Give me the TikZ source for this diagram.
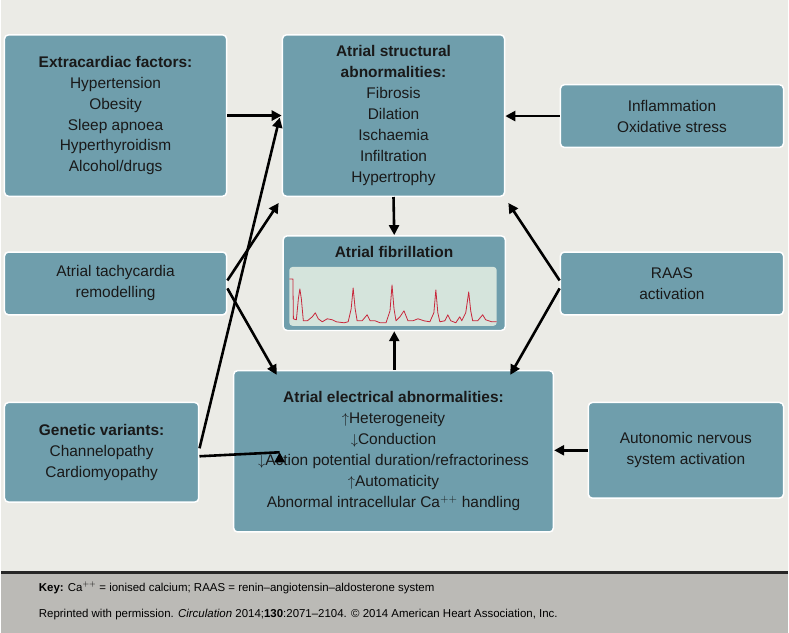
\documentclass[tikz,border=0pt]{standalone}
\usepackage{fontspec}
\setmainfont{Liberation Sans}
\usetikzlibrary{arrows.meta}
\definecolor{bg}{HTML}{EBEBE6}
\definecolor{bx}{HTML}{6F9EAC}
\definecolor{ecg}{HTML}{D5E4DC}
\definecolor{foot}{HTML}{BBBAB6}
\definecolor{ecgline}{HTML}{C8283C}
\begin{document}
\begin{tikzpicture}[x=1pt,y=-1pt,
 box/.style={draw=white,line width=1.5pt,fill=bx,rounded corners=4pt,inner sep=0pt,align=center,font=\fontsize{15.5}{21}\selectfont,text=black!90},
 arr/.style={line width=2.6pt,-{Triangle[length=10pt,width=10pt]}}]
\fill[bg] (0,0) rectangle (789,635);
\fill[foot] (0,576) rectangle (789,635);
\draw[line width=3pt,black!85] (0,574.5) -- (789,574.5);
\newcommand{\bxat}[6]{\node[box,minimum width=#4-#2,minimum height=#5-#3] (#1) at ({(#2+#4)/2},{(#3+#5)/2}) {#6};}
\bxat{extra}{3}{35}{226}{197}{\textbf{Extracardiac factors:}\\Hypertension\\Obesity\\Sleep apnoea\\Hyperthyroidism\\Alcohol/drugs}
\bxat{struct}{282}{35}{505}{197}{\textbf{Atrial structural}\\\textbf{abnormalities:}\\Fibrosis\\Dilation\\Ischaemia\\Infiltration\\Hypertrophy}
\bxat{infl}{561}{85}{785}{148}{Inflammation\\Oxidative stress}
\node[box,minimum width=223,minimum height=95,anchor=north west] (af) at (282,236) {};
\node[font=\fontsize{15.5}{21}\selectfont\bfseries,text=black!90] (aft) at (394,253) {Atrial fibrillation};
\node[fill=ecg,rounded corners=3pt,minimum width=208,minimum height=59,inner sep=0pt] (ecgbox) at (393,297.5) {};
\draw[ecgline,line width=0.8pt,line join=round] plot coordinates {
(289,280)(292.5,280)(293,320)(296,321)(298,300)(299.5,290)(301,300)(303,322)(307,322)(312,318)(315,314)(318,320)(322,323)(327,320)(332,321)(336,323)(344,324)(348,323)(351,310)(353,289)(355,310)(357,322)(362,322)(367,316)(370,322)(375,322)(380,324)(386,324)(390,312)(392,286)(394,310)(396,322)(400,318)(404,312)(408,322)(413,322)(418,320)(424,322)(430,323)(434,314)(436,291)(438,314)(440,323)(445,322)(448,316)(451,322)(456,324)(460,318)(462,322)(466,314)(469,293)(471,312)(473,322)(478,322)(483,316)(486,321)(492,323)(497,323)};
\bxat{tachy}{3}{253}{226}{316}{Atrial tachycardia\\remodelling}
\bxat{raas}{561}{253}{785}{316}{RAAS\\activation}
\bxat{elec}{233}{372}{554}{534}{\textbf{Atrial electrical abnormalities:}\\$\uparrow$Heterogeneity\\$\downarrow$Conduction\\$\downarrow$Action potential duration/refractoriness\\$\uparrow$Automaticity\\Abnormal intracellular Ca$^{++}$ handling}
\bxat{gen}{3}{404}{198}{504}{\textbf{Genetic variants:}\\Channelopathy\\Cardiomyopathy}
\bxat{auto}{589}{404}{785}{500}{Autonomic nervous\\system activation}
\draw[arr] (extra.east) ++(0,0) coordinate(a1) (a1) -- (a1-|struct.west);
\draw[arr] (infl.west) -- (infl.west-|struct.east);
\draw[arr] (struct.south) -- (af.north);
\draw[arr] (elec.north-|af.south) -- (af.south);
\draw[arr] ([yshift=3pt]tachy.east) -- ([xshift=-3pt,yshift=-6pt]struct.south west);
\draw[arr] ([yshift=-5pt]tachy.east) -- ([xshift=44pt,yshift=-5pt]elec.north west);
\draw[arr] ([yshift=3pt]raas.west) -- ([xshift=3pt,yshift=-6pt]struct.south east);
\draw[arr] ([yshift=-5pt]raas.west) -- ([xshift=-44pt,yshift=-5pt]elec.north east);
\draw[arr] ([yshift=-4pt]gen.east) -- ([xshift=-2pt]gen.east-|struct.west) ++(0,0);
\draw[arr] ([yshift=4pt]gen.east) -- ([xshift=-2pt,yshift=-2pt]struct.west);
\draw[arr] (auto.west) -- (auto.west-|elec.east);
\node[anchor=west,font=\fontsize{11.5}{14}\selectfont] (key) at (34,590) {\textbf{Key:} Ca$^{++}$ = ionised calcium; RAAS = renin–angiotensin–aldosterone system};
\node[anchor=west,font=\fontsize{11.5}{14}\selectfont] (rep) at (34,617) {Reprinted with permission. \textit{Circulation} 2014;\textbf{130}:2071–2104. © 2014 American Heart Association, Inc.};
\end{tikzpicture}
\end{document}
